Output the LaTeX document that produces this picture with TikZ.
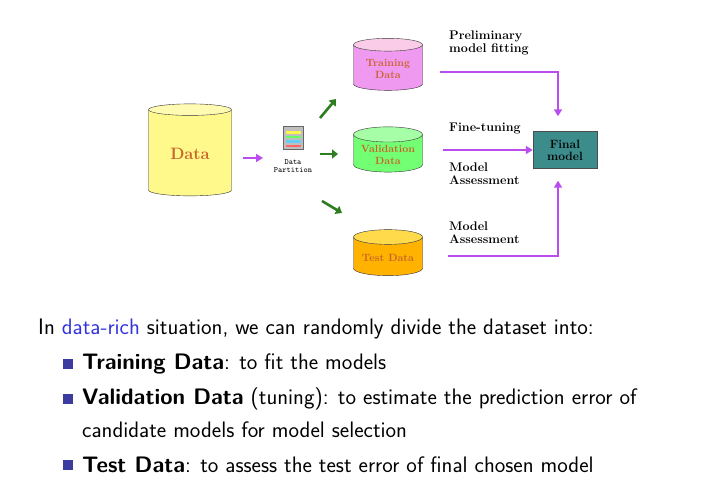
\documentclass[tikz,border=0pt]{standalone}
\usetikzlibrary{shapes.geometric,arrows.meta}
\definecolor{pinkarrow}{HTML}{B94DF0}
\definecolor{greenarrow}{HTML}{2E7D1F}
\definecolor{labelbrown}{HTML}{C8642A}
\definecolor{finalteal}{HTML}{3C8C8C}
\definecolor{bluelink}{HTML}{3333DD}
\definecolor{bulletblue}{HTML}{3B3BA0}
\newcommand{\fsz}[1]{\fontsize{#1}{#1}\selectfont}
\tikzset{
  db/.style={cylinder, shape border rotate=90, draw=black!80, thin, aspect=0.25,
    text=labelbrown, align=center, cylinder uses custom fill},
  flow/.style={draw=pinkarrow, line width=1.6pt, -{Triangle[length=7pt,width=8pt]}},
  split/.style={draw=greenarrow, line width=2.6pt, -{Triangle[length=6pt,width=9pt]}},
  lbl/.style={font=\rmfamily\bfseries\fsz{12.5}, anchor=north west, align=left, inner sep=0pt},
  body/.style={font=\sffamily\fsz{22.4}, anchor=west, inner sep=0pt, align=left},
  sq/.style={fill=bulletblue, minimum size=10pt, inner sep=0pt}
}
\begin{document}
\begin{tikzpicture}[x=1pt,y=-1pt]
\useasboundingbox (0,0) rectangle (724,489);
% cylinders
\node[db, cylinder body fill=yellow!45, cylinder end fill=yellow!30, minimum width=83pt, minimum height=92pt, font=\rmfamily\bfseries\fsz{16.5}] (data) at (190,154) {Data};
\node[db, cylinder body fill=violet!30!magenta!40, cylinder end fill=magenta!20, minimum width=69pt, minimum height=52pt, font=\rmfamily\bfseries\fsz{10.5}] (train) at (388,69) {Training\\[1pt]Data};
\node[db, cylinder body fill=green!55, cylinder end fill=green!35, minimum width=69pt, minimum height=42pt, font=\rmfamily\bfseries\fsz{10.5}] (valid) at (388,155) {Validation\\[1pt]Data};
\node[db, cylinder body fill=orange!60!yellow, cylinder end fill=orange!40!yellow!70, minimum width=69pt, minimum height=46pt, font=\rmfamily\bfseries\fsz{10.5}] (test) at (388,258) {Test Data};
% partition icon
\node[draw=black!60, fill=black!25, minimum width=20pt, minimum height=23pt, inner sep=0pt] (icon) at (293,138) {};
\foreach \yy/\cc in {-7/red!60, -2.5/cyan!60, 2/green!60, 6.5/yellow!70}
  \fill[\cc] ([xshift=-7.5pt,yshift=\yy pt]icon.center) rectangle ++(15pt,-2.5pt);
\node[font=\ttfamily\fsz{8}, align=center, inner sep=0pt] (part) at (293,166) {Data\\Partition};
% final model
\node[draw=black!70, fill=finalteal, minimum width=64pt, minimum height=37pt, font=\rmfamily\bfseries\fsz{12}, align=center, inner sep=0pt] (final) at (565,150) {Final\\model};
% arrows
\coordinate (d1) at (243,158);
\draw[flow] (d1) -- (263,158);
\coordinate (g1) at (320,118); \coordinate (g1e) at (336,99);
\coordinate (g2) at (320,154); \coordinate (g2e) at (338,154);
\coordinate (g3) at (322,201); \coordinate (g3e) at (342,213);
\draw[split] (g1) -- (g1e);
\draw[split] (g2) -- (g2e);
\draw[split] (g3) -- (g3e);
\coordinate (t0) at (440,72); \coordinate (v0) at (443,150); \coordinate (s0) at (448,256);
\draw[flow] (t0) -| ([xshift=-7pt,yshift=15pt]final.north);
\draw[flow] (v0) -- (final.west);
\draw[flow] (s0) -| ([xshift=-7pt,yshift=-12pt]final.south);
% labels
\node[lbl] (l1) at (449,31) {Preliminary\\model fitting};
\node[lbl] (l2) at (449,123) {Fine-tuning};
\node[lbl] (l3) at (449,163) {Model\\Assessment};
\node[lbl] (l4) at (449,222) {Model\\Assessment};
% text
\node[body] (t1) at (38,329) {In \textcolor{bluelink}{data-rich} situation, we can randomly divide the dataset into:};
\node[sq] (b1) at (68,364) {};
\node[body] (t2) at (82,364) {\textbf{Training Data}: to fit the models};
\node[sq] (b2) at (68,399) {};
\node[body] (t3) at (82,399) {\textbf{Validation Data} (tuning): to estimate the prediction error of};
\node[body] (t3b) at (82,430) {candidate models for model selection};
\node[sq] (b3) at (68,465) {};
\node[body] (t4) at (82,465) {\textbf{Test Data}: to assess the test error of final chosen model};
\end{tikzpicture}
\end{document}
